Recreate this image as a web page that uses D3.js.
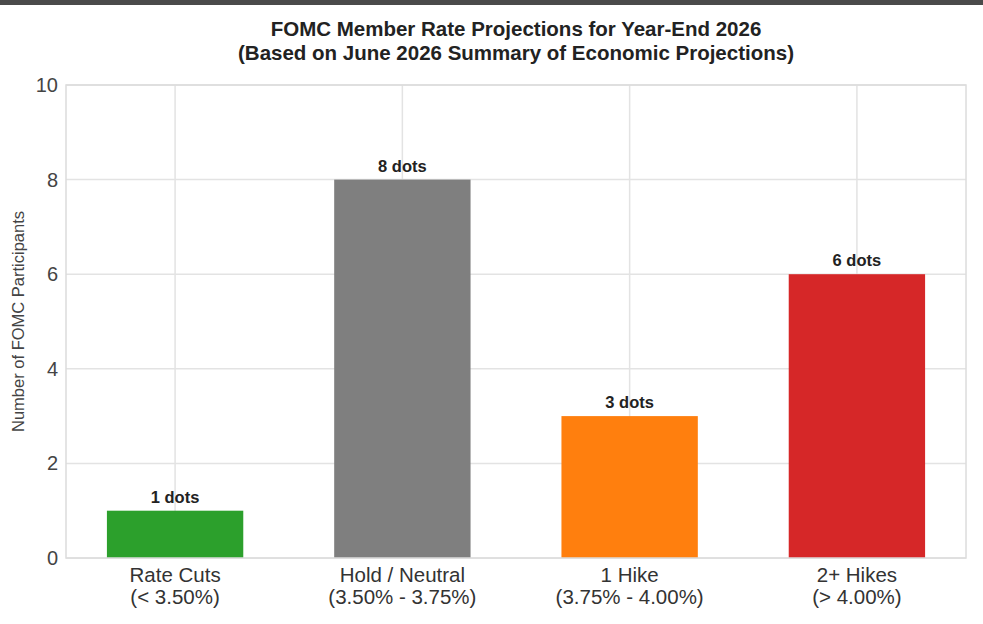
<!DOCTYPE html>
<html>
<head>
<meta charset="utf-8">
<script src="https://cdn.jsdelivr.net/npm/d3@7"></script>
<style>
  html, body { margin: 0; padding: 0; background: #fff; }
  svg { display: block; font-family: "Liberation Sans", Arial, sans-serif; }
</style>
</head>
<body>
<div id="chart"></div>
<script>
  // 데이터
  const categories = ['Rate Cuts', 'Hold / Neutral', '1 Hike', '2+ Hikes'];
  const rangeLabels = ['(< 3.50%)', '(3.50% - 3.75%)', '(3.75% - 4.00%)', '(> 4.00%)'];
  const dotCounts = [1, 8, 3, 6];
  const barColors = ['#2ca02c', '#7f7f7f', '#ff7f0e', '#d62728'];
  const yTicks = [0, 2, 4, 6, 8, 10];

  const W = 983, H = 624;
  const margin = { top: 85, right: 17, bottom: 66, left: 66 };
  const width = W - margin.left - margin.right;
  const height = H - margin.top - margin.bottom;

  const root = d3.select('#chart')
    .append('svg')
    .attr('width', W)
    .attr('height', H);

  // 상단 어두운 띠
  root.append('rect')
    .attr('x', 0).attr('y', 0)
    .attr('width', W).attr('height', 5)
    .attr('fill', '#4a4a4a');

  // 제목
  const title = root.append('text')
    .attr('text-anchor', 'middle')
    .attr('font-size', '20.5px')
    .attr('font-weight', 'bold')
    .attr('fill', '#222');
  title.append('tspan').attr('x', margin.left + width / 2).attr('y', 36)
    .text('FOMC Member Rate Projections for Year-End 2026');
  title.append('tspan').attr('x', margin.left + width / 2).attr('y', 60)
    .text('(Based on June 2026 Summary of Economic Projections)');

  const svg = root.append('g')
    .attr('transform', `translate(${margin.left},${margin.top})`);

  // 스케일
  const x = d3.scaleBand()
    .domain(categories)
    .range([0, width])
    .paddingInner(0.4)
    .paddingOuter(0.18);

  const y = d3.scaleLinear()
    .domain([0, 10])
    .range([height, 0]);

  // 그리드
  svg.append('g')
    .selectAll('line')
    .data(yTicks)
    .enter()
    .append('line')
    .attr('x1', 0).attr('x2', width)
    .attr('y1', d => y(d)).attr('y2', d => y(d))
    .attr('stroke', '#e3e3e3')
    .attr('stroke-width', 1.5);

  svg.append('g')
    .selectAll('line')
    .data(categories)
    .enter()
    .append('line')
    .attr('x1', d => x(d) + x.bandwidth() / 2)
    .attr('x2', d => x(d) + x.bandwidth() / 2)
    .attr('y1', 0).attr('y2', height)
    .attr('stroke', '#e3e3e3')
    .attr('stroke-width', 1.5);

  // 막대
  svg.selectAll('.bar')
    .data(dotCounts)
    .enter()
    .append('rect')
    .attr('class', 'bar')
    .attr('x', (d, i) => x(categories[i]))
    .attr('y', d => y(d))
    .attr('width', x.bandwidth())
    .attr('height', d => height - y(d))
    .attr('fill', (d, i) => barColors[i]);

  // 값 라벨
  svg.selectAll('.value')
    .data(dotCounts)
    .enter()
    .append('text')
    .attr('class', 'value')
    .attr('x', (d, i) => x(categories[i]) + x.bandwidth() / 2)
    .attr('y', d => y(d) - 8)
    .attr('text-anchor', 'middle')
    .attr('font-size', '16.5px')
    .attr('font-weight', 'bold')
    .attr('fill', '#222')
    .text(d => `${d} dots`);

  // 테두리
  svg.append('rect')
    .attr('x', 0).attr('y', 0)
    .attr('width', width).attr('height', height)
    .attr('fill', 'none')
    .attr('stroke', '#dcdcdc')
    .attr('stroke-width', 1.5);

  // Y축
  const yAxis = svg.append('g')
    .call(d3.axisLeft(y).tickValues(yTicks).tickSize(0).tickPadding(8));
  yAxis.select('.domain').remove();
  yAxis.selectAll('text')
    .attr('font-size', '20px')
    .attr('fill', '#444')
    .attr('font-family', '"Liberation Sans", Arial, sans-serif');

  // X축 (두 줄)
  const xAxis = svg.append('g')
    .attr('transform', `translate(0,${height})`)
    .call(d3.axisBottom(x).tickSize(0).tickFormat(''));
  xAxis.select('.domain').remove();
  xAxis.selectAll('.tick')
    .append('text')
    .attr('text-anchor', 'middle')
    .attr('font-size', '20.5px')
    .attr('fill', '#333')
    .attr('font-family', '"Liberation Sans", Arial, sans-serif')
    .each(function(d, i) {
      const t = d3.select(this);
      t.append('tspan').attr('x', 0).attr('y', 24).text(categories[i]);
      t.append('tspan').attr('x', 0).attr('y', 46).text(rangeLabels[i]);
    });

  // Y축 라벨
  root.append('text')
    .attr('transform', `translate(24,${margin.top + height / 2}) rotate(-90)`)
    .attr('text-anchor', 'middle')
    .attr('font-size', '16.5px')
    .attr('fill', '#444')
    .text('Number of FOMC Participants');
</script>
</body>
</html>
